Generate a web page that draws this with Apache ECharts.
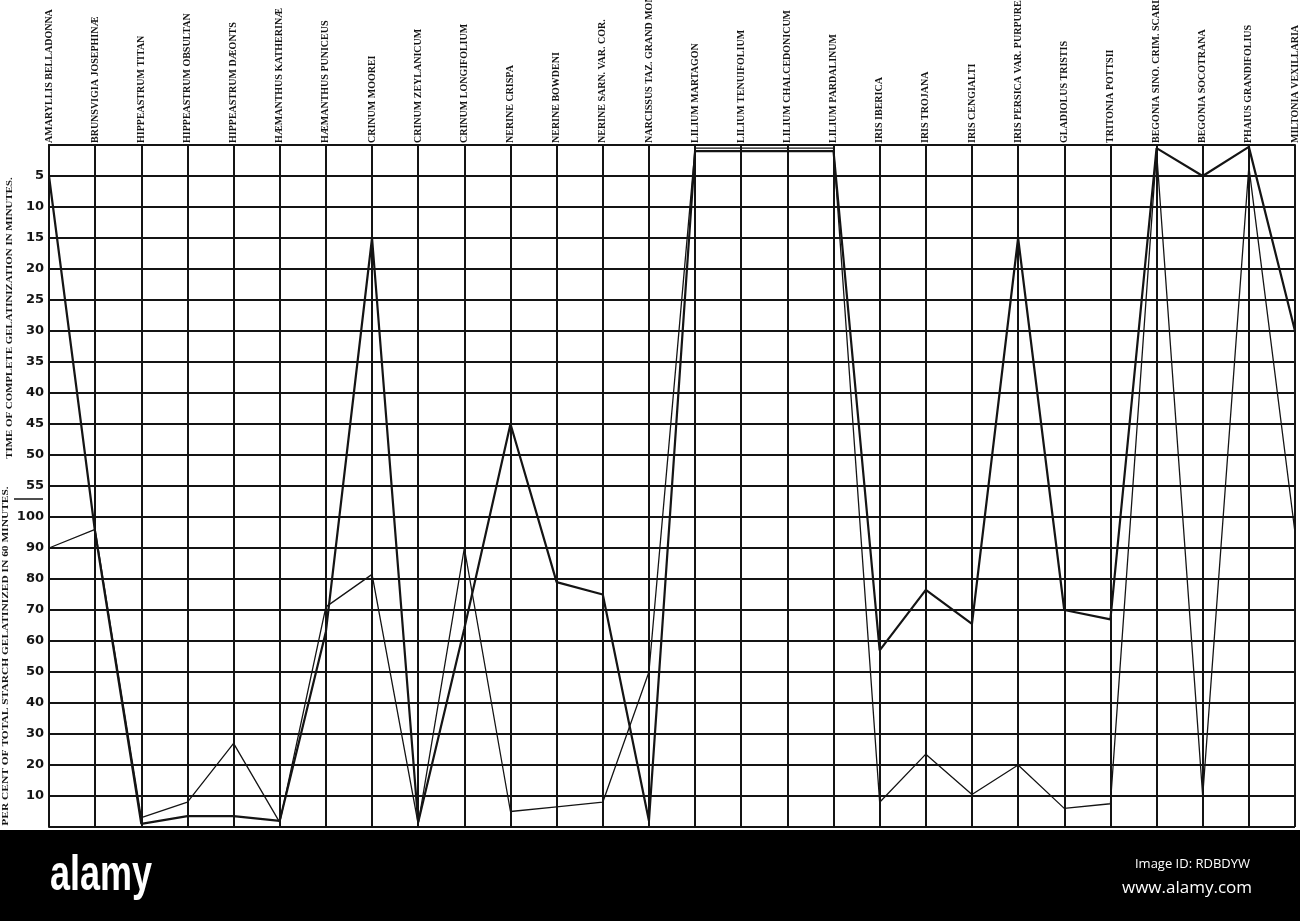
<!DOCTYPE html>
<html>
<head>
<meta charset="utf-8">
<script src="https://cdn.jsdelivr.net/npm/echarts@6/dist/echarts.min.js"></script>
<style>
html,body{margin:0;padding:0;background:#fff;}
#chart{width:1300px;height:921px;}
</style>
</head>
<body>
<div id="chart"></div>
<script>
// ---- data ----
const categories = [
  'AMARYLLIS BELLADONNA','BRUNSVIGIA JOSEPHINÆ','HIPPEASTRUM TITAN','HIPPEASTRUM OBSULTAN',
  'HIPPEASTRUM DÆONTS','HÆMANTHUS KATHERINÆ','HÆMANTHUS PUNICEUS','CRINUM MOOREI',
  'CRINUM ZEYLANICUM','CRINUM LONGIFOLIUM','NERINE CRISPA','NERINE BOWDENI',
  'NERINE SARN. VAR. COR.','NARCISSUS TAZ. GRAND MONARQUE','LILIUM MARTAGON','LILIUM TENUIFOLIUM',
  'LILIUM CHALCEDONICUM','LILIUM PARDALINUM','IRIS IBERICA','IRIS TROJANA',
  'IRIS CENGIALTI','IRIS PERSICA VAR. PURPUREA','GLADIOLUS TRISTIS','TRITONIA POTTSII',
  'BEGONIA SINO. CRIM. SCARLET','BEGONIA SOCOTRANA','PHAIUS GRANDIFOLIUS','MILTONIA VEXILLARIA'
];
// Series A: minutes to complete gelatinization (null = not complete in 60 min), else per cent in 60 min
const minutesA = [5,null,null,null,null,null,null,15,null,null,45,null,null,null,1,1,1,1,null,null,null,15,null,null,0.5,5,0.3,30];
const percentA = [null,95,1,3.5,3.5,2,63,null,1.5,64,null,79,75,2,null,null,null,null,57,76.5,65.5,null,70,67,null,null,null,null];
// Series B
const minutesB = [null,null,null,null,null,null,null,null,null,null,null,null,null,null,0.5,0.5,0.5,0.5,null,null,null,null,null,null,1,null,3.5,null];
const percentB = [90,96,3,8,27,1.5,71,81.5,1,90,5,6.5,8,50,null,null,null,null,8,23.5,10.5,20,6,7.5,null,10,null,95];
// y tick labels on the combined scale (top: minutes, bottom: per cent)
const yTickLabels = ['','5','10','15','20','25','30','35','40','45','50','55','100','90','80','70','60','50','40','30','20','10',''];

// combined scale: minutes 0..60 occupy units 0..12 (5 min per unit), per cent 100..0 occupy units 12..22 (10% per unit)
function toScale(m, p){ return m != null ? m / 5 : 12 + (100 - p) / 10; }
const dataA = categories.map((c,i) => toScale(minutesA[i], percentA[i]));
const dataB = categories.map((c,i) => toScale(minutesB[i], percentB[i]));

const chart = echarts.init(document.getElementById('chart'), null, {renderer:'canvas'});
const ink = '#141414';
chart.setOption({
  animation:false,
  backgroundColor:'#fff',
  grid:{left:49,right:5,top:145,bottom:94,containLabel:false,outerBoundsMode:'none'},
  xAxis:{
    type:'category', position:'top', boundaryGap:false, data:categories,
    axisLine:{show:true,lineStyle:{color:ink,width:2}},
    axisTick:{show:false},
    axisLabel:{interval:0,rotate:90,margin:2,fontSize:10,fontWeight:'bold',fontFamily:'Liberation Serif',color:ink},
    splitLine:{show:true,interval:0,lineStyle:{color:ink,width:2}}
  },
  yAxis:{
    type:'value', inverse:true, min:0, max:22, interval:1,
    axisLine:{show:true,lineStyle:{color:ink,width:2}},
    axisTick:{show:false},
    axisLabel:{margin:5,fontSize:13,fontWeight:'bold',fontFamily:'DejaVu Sans',color:ink,
      formatter:v => yTickLabels[Math.round(v)] || ''},
    splitLine:{show:true,lineStyle:{color:ink,width:2}}
  },
  series:[
    {type:'line',data:dataA,showSymbol:false,lineStyle:{color:ink,width:2.2},z:5},
    {type:'line',data:dataB,showSymbol:false,lineStyle:{color:ink,width:1.3},z:5}
  ],
  graphic:[
    {type:'text',x:10,y:318,rotation:Math.PI/2,scaleX:1.21,style:{text:'TIME OF COMPLETE GELATINIZATION IN MINUTES.',fontSize:9,fontWeight:'bold',fontFamily:'Liberation Serif',fill:ink,align:'center',verticalAlign:'middle'}},
    {type:'text',x:6,y:656,rotation:Math.PI/2,scaleX:1.27,style:{text:'PER CENT OF TOTAL STARCH GELATINIZED IN 60 MINUTES.',fontSize:9,fontWeight:'bold',fontFamily:'Liberation Serif',fill:ink,align:'center',verticalAlign:'middle'}},
    {type:'line',shape:{x1:14,y1:499,x2:43,y2:499},style:{stroke:ink,lineWidth:1.5}},
    {type:'rect',shape:{x:0,y:830,width:1300,height:91},style:{fill:'#000'}},
    {type:'text',x:50,y:876,scaleX:0.72,style:{text:'alamy',fontSize:50,fontWeight:'bold',fontFamily:'Liberation Sans',fill:'#fff',align:'left',verticalAlign:'middle'}},
    {type:'text',x:1250,y:864,style:{text:'Image ID: RDBDYW',fontSize:13,fontFamily:'Open Sans',fill:'#fff',align:'right',verticalAlign:'middle'}},
    {type:'text',x:1252,y:888,style:{text:'www.alamy.com',fontSize:17,fontFamily:'Open Sans',fill:'#fff',align:'right',verticalAlign:'middle'}}
  ]
});
</script>
</body>
</html>
